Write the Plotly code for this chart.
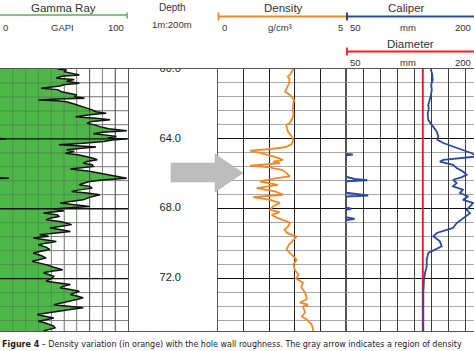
import plotly.graph_objects as go
import numpy as np

W, H = 474, 351

# ---------------- data ----------------
gr_depth = [60.00, 60.06, 60.15, 60.25, 60.34, 60.42, 60.53, 60.60, 60.70, 60.82, 60.90, 60.97,
            61.05, 61.10, 61.18, 61.30, 61.40, 61.49, 61.58, 61.67, 61.72, 61.77, 61.82, 61.87,
            62.00, 62.15, 62.25, 62.34, 62.45, 62.53, 62.62, 62.73, 62.82, 62.91, 63.00, 63.10,
            63.20, 63.30, 63.42, 63.54, 63.62, 63.71, 63.80, 63.87, 63.95, 64.00, 64.07, 64.15,
            64.25, 64.34, 64.40, 64.47, 64.55, 64.63, 64.72, 64.82, 64.92, 65.01, 65.10, 65.20,
            65.30, 65.39, 65.48, 65.58, 65.66, 65.73, 65.85, 65.96, 66.05, 66.15, 66.25, 66.35,
            66.44, 66.53, 66.63, 66.72, 66.82, 66.92, 67.01, 67.10, 67.20, 67.35, 67.49, 67.58,
            67.67, 67.78, 67.87, 67.95, 68.02, 68.12, 68.25, 68.35, 68.44, 68.53, 68.63, 68.75,
            68.91, 69.00, 69.10, 69.20, 69.30, 69.40, 69.49, 69.58, 69.67, 69.77, 69.87, 69.97,
            70.06, 70.20, 70.34, 70.43, 70.53, 70.68, 70.82, 70.92, 71.01, 71.10, 71.20, 71.35,
            71.49, 71.58, 71.67, 71.77, 71.87, 72.00, 72.15, 72.25, 72.34, 72.43, 72.53, 72.63,
            72.73, 72.82, 72.91, 73.00, 73.10, 73.20, 73.30, 73.40, 73.49, 73.58, 73.67, 73.77,
            73.87, 73.97, 74.06, 74.15, 74.25, 74.35, 74.44, 74.53, 74.63, 74.72, 74.82, 74.92,
            75.00]
gr_api = [45, 52, 50, 58, 62, 48, 44, 58, 52, 62, 50, 47,
          40, 32, 45, 48, 55, 60, 58, 66, 45, 30, 45, 52,
          58, 65, 68, 72, 75, 83, 70, 59, 75, 86, 72, 68,
          74, 78, 85, 99, 80, 73, 85, 91, 84, 99, 88, 81,
          65, 46, 60, 75, 62, 52, 58, 51, 62, 68, 72, 76,
          68, 65, 72, 73, 62, 55, 70, 78, 85, 94, 99, 80,
          70, 66, 62, 70, 72, 62, 56, 68, 78, 70, 65, 55,
          47, 60, 70, 55, 42, 50, 34, 45, 46, 40, 36, 48,
          56, 48, 39, 48, 55, 42, 31, 38, 26, 35, 44, 36,
          30, 36, 39, 32, 26, 32, 36, 30, 25, 30, 36, 42,
          49, 40, 34, 38, 42, 40, 36, 46, 55, 50, 47, 55,
          62, 58, 55, 60, 65, 60, 55, 48, 42, 55, 65, 55,
          47, 38, 29, 35, 42, 36, 30, 35, 39, 42, 43, 38,
          34]
gr_wrap_depth = [63.98, 64.00, 64.02, None, 66.23, 66.25, 66.27]
gr_wrap_api = [0, 5, 0, None, 0, 7, 0]

den_depth = [60.00, 60.06, 60.25, 60.44, 60.60, 60.82, 61.05, 61.30, 61.49, 61.77, 62.05, 62.34,
             62.60, 62.91, 63.10, 63.20, 63.40, 63.58, 63.80, 64.06, 64.30, 64.46, 64.58, 64.67,
             64.80, 64.91, 65.03, 65.20, 65.30, 65.39, 65.54, 65.62, 65.77, 65.96, 66.15, 66.25,
             66.44, 66.63, 66.82, 67.01, 67.20, 67.33, 67.49, 67.67, 67.87, 68.06, 68.20, 68.35,
             68.51, 68.65, 68.80, 69.00, 69.20, 69.37, 69.60, 69.85, 70.10, 70.34, 70.60, 70.91,
             71.20, 71.49, 71.80, 72.00, 72.23, 72.50, 72.80, 73.00, 73.20, 73.37, 73.49, 73.60,
             73.94, 74.17, 74.34, 74.63, 74.91, 75.00]
den_val = [2.92, 2.92, 2.85, 2.73, 2.80, 2.77, 2.70, 2.62, 2.81, 2.97, 2.93, 2.92,
           2.95, 2.88, 2.80, 2.66, 2.70, 2.73, 2.85, 2.94, 2.88, 2.68, 2.10, 1.25,
           1.64, 1.95, 2.23, 2.54, 2.15, 2.42, 1.25, 1.95, 2.49, 2.68, 2.81, 2.29,
           1.64, 2.34, 1.51, 2.23, 2.54, 1.37, 2.03, 2.42, 2.15, 2.03, 2.40, 2.10,
           2.29, 2.55, 2.81, 2.75, 2.60, 2.68, 3.07, 2.90, 2.75, 2.68, 2.85, 3.07,
           2.95, 3.00, 3.15, 3.05, 3.32, 3.25, 3.40, 3.45, 3.46, 3.20, 3.52, 3.32,
           3.40, 3.27, 3.46, 3.66, 3.71, 3.72]

cal_depth = [60.00, 60.06, 60.30, 60.63, 60.90, 61.20, 61.50, 61.77, 62.06, 62.30, 62.53, 62.75,
             62.91, 63.10, 63.30, 63.58, 63.87, 64.06, 64.25, 64.44, 64.63, 64.82, 65.01, 65.10,
             65.20, 65.30, 65.49, 65.67, 65.87, 66.06, 66.20, 66.34, 66.53, 66.72, 66.91, 67.10,
             67.30, 67.49, 67.67, 67.87, 68.06, 68.25, 68.53, 68.82, 69.10, 69.39, 69.58, 69.87,
             70.15, 70.34, 70.53, 70.91, 71.30, 71.67, 72.06, 72.82, 73.58, 74.34, 75.00]
cal_mm = [150.0, 149.6, 151.0, 151.6, 149.8, 150.5, 149.5, 148.4, 146.4, 147.0, 145.7, 146.0,
          146.4, 149.0, 152.0, 156.3, 158.2, 157.0, 164.8, 175.4, 187.0, 197.3, 203.0, 185.0,
          164.0, 160.0, 175.4, 179.7, 187.0, 191.4, 185.0, 175.4, 179.7, 175.4, 187.0, 183.6,
          193.3, 187.0, 198.8, 195.3, 191.4, 195.3, 187.0, 179.7, 175.4, 156.3, 152.3, 160.0,
          162.1, 154.3, 146.4, 144.6, 144.6, 142.6, 141.4, 140.6, 140.6, 140.6, 140.6]
cal_wrap_depth = [64.86, 64.90, 64.94, None, 66.17, 66.24, 66.30, 66.37, 66.42, None,
                  67.08, 67.16, 67.24, 67.30, None, 67.93, 68.00, 68.06, None, 68.48, 68.58, 68.66]
cal_wrap_mm = [50, 58, 50, None, 50, 57, 60, 75, 50, None,
               50, 62, 76, 50, None, 50, 56, 50, None, 50, 60, 50]

dia_depth = [60, 75]
dia_mm = [140, 140]

depth_tick_vals = [60, 64, 68, 72]
depth_tick_text = ["60.0", "64.0", "68.0", "72.0"]
depth_major = [64, 68, 72]
gr_grid = [10, 20, 30, 40, 50, 60, 80]
gr_grid_dark = [70, 90]

# ---------------- layout helpers ----------------
FONT = "Liberation Sans, Arial, sans-serif"
TXT = "#333333"
GREEN = "#4DB748"
ORANGE = "#F0892A"
BLUE = "#2C4A9E"
RED = "#E8222A"


def fx(px):
    return px / W


def fy(py):
    return 1 - py / H


YDOM = [fy(331), fy(69)]
D_GR = [0, fx(128)]
D_DEP = [fx(128), fx(218)]
D_DEN = [fx(218), fx(346)]
D_CAL = [fx(346), 1.0]

fig = go.Figure()

# gamma fill
fig.add_trace(go.Scatter(x=gr_api, y=gr_depth, xaxis="x", yaxis="y", mode="lines",
                         fill="tozerox", fillcolor=GREEN, line=dict(width=0, color=GREEN),
                         hoverinfo="skip", showlegend=False))
# gamma grid overlay (drawn over the fill)
minor = [v for v in np.arange(60.8, 75.0, 0.8).round(1) if v not in depth_major]
gx, gy = [], []
for v in gr_grid:
    gx += [v, v, None]
    gy += [60, 75, None]
for d in minor:
    gx += [0, 100, None]
    gy += [d, d, None]
fig.add_trace(go.Scatter(x=gx, y=gy, mode="lines", line=dict(color="rgba(90,90,90,0.45)", width=1),
                         hoverinfo="skip", showlegend=False))
dx, dy = [], []
for v in gr_grid_dark:
    dx += [v, v, None]
    dy += [60, 75, None]
fig.add_trace(go.Scatter(x=dx, y=dy, mode="lines", line=dict(color="rgba(70,70,70,0.7)", width=1.2),
                         hoverinfo="skip", showlegend=False))
mx, my = [], []
for d in depth_major:
    mx += [0, 100, None]
    my += [d, d, None]
fig.add_trace(go.Scatter(x=mx, y=my, mode="lines", line=dict(color="#111111", width=1.3),
                         hoverinfo="skip", showlegend=False))
# gamma curve
fig.add_trace(go.Scatter(x=gr_api, y=gr_depth, mode="lines", line=dict(color="#111111", width=1.5),
                         showlegend=False))
fig.add_trace(go.Scatter(x=gr_wrap_api, y=gr_wrap_depth, mode="lines",
                         line=dict(color="#111111", width=1.5), showlegend=False))

# density
fig.add_trace(go.Scatter(x=den_val, y=den_depth, xaxis="x2", yaxis="y", mode="lines",
                         line=dict(color=ORANGE, width=1.8), showlegend=False))
# diameter + caliper
fig.add_trace(go.Scatter(x=dia_mm, y=dia_depth, xaxis="x3", yaxis="y", mode="lines",
                         line=dict(color=RED, width=2), showlegend=False))
fig.add_trace(go.Scatter(x=cal_mm, y=cal_depth, xaxis="x3", yaxis="y", mode="lines",
                         line=dict(color=BLUE, width=1.8), showlegend=False))
fig.add_trace(go.Scatter(x=cal_wrap_mm, y=cal_wrap_depth, xaxis="x3", yaxis="y", mode="lines",
                         line=dict(color=BLUE, width=2), showlegend=False))

# depth labels
fig.add_trace(go.Scatter(x=[0.47] * len(depth_tick_vals), y=depth_tick_vals, xaxis="x4", yaxis="y2",
                         mode="text", text=depth_tick_text, cliponaxis=True,
                         textfont=dict(family=FONT, size=11, color="#222222"), showlegend=False))

common_x = dict(showticklabels=False, ticks="", zeroline=False, showline=True, mirror=True,
                linecolor="#555555", linewidth=1.2, anchor="y", fixedrange=True)
fig.update_layout(
    width=W, height=H, autosize=False,
    margin=dict(l=0, r=0, t=0, b=0),
    paper_bgcolor="white", plot_bgcolor="white",
    showlegend=False,
    xaxis=dict(domain=D_GR, range=[0, 100], dtick=10, tick0=0, showgrid=True,
               gridcolor="#a8a8a8", gridwidth=1, **common_x),
    xaxis2=dict(domain=D_DEN, range=[0, 5], dtick=1, tick0=0, showgrid=True,
                gridcolor="#222222", gridwidth=1.3, **common_x),
    xaxis3=dict(domain=D_CAL, range=[50, 200], dtick=20, tick0=50, showgrid=True,
                gridcolor="#3a3a3a", gridwidth=1.2, **common_x),
    xaxis4=dict(domain=D_DEP, range=[0, 1], showgrid=False, showticklabels=False, ticks="",
                zeroline=False, showline=True, mirror=True, linecolor="#555555", linewidth=1.2,
                anchor="y2", fixedrange=True),
    yaxis=dict(domain=YDOM, range=[75, 60], tick0=60, dtick=4, showgrid=True,
               gridcolor="#111111", gridwidth=1.3, showticklabels=False, ticks="",
               zeroline=False, showline=True, mirror="all", linecolor="#555555", linewidth=1.2,
               minor=dict(tick0=60, dtick=0.8, showgrid=True, gridcolor="#a8a8a8", gridwidth=1),
               anchor="x", fixedrange=True),
    yaxis2=dict(domain=YDOM, range=[75, 60], showgrid=False, showticklabels=False, ticks="",
                zeroline=False, showline=False, anchor="x4", fixedrange=True),
)

shapes = []


def hline(x0, x1, y, color, w=2):
    shapes.append(dict(type="line", xref="paper", yref="paper", x0=fx(x0), x1=fx(x1),
                       y0=fy(y), y1=fy(y), line=dict(color=color, width=w)))


def vtick(x, y0, y1, color, w=2):
    shapes.append(dict(type="line", xref="paper", yref="paper", x0=fx(x), x1=fx(x),
                       y0=fy(y0), y1=fy(y1), line=dict(color=color, width=w)))


hline(0, 127, 15, GREEN, 1.6)
vtick(127, 12.5, 18.5, GREEN, 1.5)
hline(218, 346, 16.5, ORANGE, 2)
vtick(218.5, 12.5, 20.5, ORANGE, 1.8)
hline(346, 474, 16.5, BLUE, 2)
vtick(347, 12.5, 20.5, "#333366", 1.8)
hline(346, 474, 51.5, RED, 2)
vtick(347, 47.5, 55.5, RED, 1.8)

# arrow
pts = [(171, 163), (215, 163), (215, 154), (243, 173), (215, 192), (215, 182), (171, 182)]
path = "M " + " L ".join(f"{fx(a):.5f},{fy(b):.5f}" for a, b in pts) + " Z"
shapes.append(dict(type="path", xref="paper", yref="paper", path=path,
                   fillcolor="#BDBDBD", line=dict(color="#B0B0B0", width=0.5), layer="above"))
fig.update_layout(shapes=shapes)

anns = []


def ann(text, x, y, size, color=TXT, xanchor="center", family=FONT):
    anns.append(dict(text=text, x=fx(x), y=fy(y), xref="paper", yref="paper", showarrow=False,
                     xanchor=xanchor, yanchor="middle", font=dict(family=family, size=size, color=color)))


ann("Gamma Ray", 63.5, 8, 11.5)
ann("0", 5.5, 27.5, 9.5)
ann("GAPI", 63, 27.5, 9.5)
ann("100", 116, 27.5, 9.5)
ann("Depth", 172, 7.5, 10)
ann("1m:200m", 172, 24.5, 9.5)
ann("Density", 283, 8, 11.5)
ann("0", 224, 27.5, 9.5)
ann("g/cm³", 280, 27.5, 9.5)
ann("5", 340.5, 27.5, 9.5)
ann("Caliper", 406, 7.5, 11.5)
ann("50", 355, 27.5, 9.5)
ann("mm", 408, 27.5, 9.5)
ann("200", 462.5, 27.5, 9.5)
ann("Diameter", 410, 43.5, 11.5)
ann("50", 355, 62.5, 9.5)
ann("mm", 408, 62.5, 9.5)
ann("200", 462.5, 62.5, 9.5)
ann("<b>Figure 4</b> – Density variation (in orange) with the hole wall roughness. "
    "The gray arrow indicates a region of density",
    0, 344, 8.9, color="#222222", xanchor="left",
    family="DejaVu Sans Condensed, Liberation Sans Narrow, sans-serif")
fig.update_layout(annotations=anns)

fig.write_html("out.html")
